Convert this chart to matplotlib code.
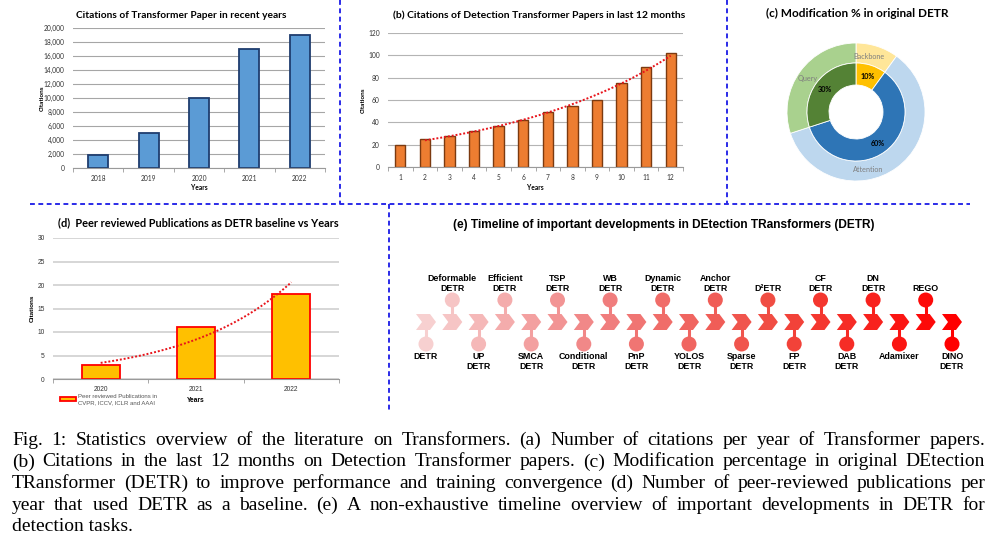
import numpy as np
import matplotlib
matplotlib.use('Agg')
import matplotlib.pyplot as plt
from matplotlib.patches import Polygon, Circle, Patch
from matplotlib.colors import LinearSegmentedColormap
from matplotlib.ticker import FuncFormatter

# ---------------- data ----------------
a_years = ['2018', '2019', '2020', '2021', '2022']
a_citations = [1800, 5000, 10000, 17000, 19000]

b_months = ['1', '2', '3', '4', '5', '6', '7', '8', '9', '10', '11', '12']
b_citations = [20, 25, 28, 32, 37, 42, 49, 55, 60, 75, 90, 102]

c_parts = ['Backbone', 'Attention', 'Query']
c_percent = [10, 60, 30]
c_pct_labels = ['10%', '60%', '30%']

d_years = ['2020', '2021', '2022']
d_pubs = [3, 11, 18]
d_legend = 'Peer reviewed Publications in\nCVPR, ICCV, ICLR and AAAI'

e_names = ['DETR', 'Deformable\nDETR', 'UP\nDETR', 'Efficient\nDETR', 'SMCA\nDETR',
           'TSP\nDETR', 'Conditional\nDETR', 'WB\nDETR', 'PnP\nDETR', 'Dynamic\nDETR',
           'YOLOS\nDETR', 'Anchor\nDETR', 'Sparse\nDETR', 'D²ETR', 'FP\nDETR',
           'CF\nDETR', 'DAB\nDETR', 'DN\nDETR', 'Adamixer', 'REGO', 'DINO\nDETR']
e_side = ['below', 'above'] * 10 + ['below']

caption_lines = [
    "Fig. 1: Statistics overview of the literature on Transformers. (a) Number of citations per year of Transformer papers.",
    "(b) Citations in the last 12 months on Detection Transformer papers. (c) Modification percentage in original DEtection",
    "TRansformer (DETR) to improve performance and training convergence (d) Number of peer-reviewed publications per",
    "year that used DETR as a baseline. (e) A non-exhaustive timeline overview of important developments in DETR for",
    "detection tasks.",
]

# ---------------- figure ----------------
W, H = 1000, 551
fig = plt.figure(figsize=(10, 5.51), dpi=100)
fig.patch.set_facecolor('white')

CAL = 'Lato'
ARIAL = 'Liberation Sans'


def px_axes(x0, y0, x1, y1):
    return fig.add_axes([x0 / W, 1 - y1 / H, (x1 - x0) / W, (y1 - y0) / H])


def excel_style(ax, n, grid_color, grid_lw, fs, family):
    ax.set_facecolor('none')
    for s in ['top', 'right', 'left']:
        ax.spines[s].set_visible(False)
    ax.spines['bottom'].set_color('#9A9A9A')
    ax.spines['bottom'].set_linewidth(0.8)
    ax.yaxis.grid(True, color=grid_color, lw=grid_lw)
    ax.set_axisbelow(True)
    ax.set_xlim(-0.5, n - 0.5)
    ax.set_xticks(np.arange(-0.5, n, 1.0), minor=True)
    ax.tick_params(axis='x', which='minor', length=3, color='#9A9A9A', width=0.6)
    ax.tick_params(axis='x', which='major', length=0, labelsize=fs, pad=5)
    ax.tick_params(axis='y', length=0, labelsize=fs, pad=6)
    for lab in ax.get_xticklabels() + ax.get_yticklabels():
        lab.set_family(family)
        lab.set_color('#333333')


# overlay axes in pixel units
ov = fig.add_axes([0, 0, 1, 1])
ov.set_xlim(0, W)
ov.set_ylim(H, 0)
ov.axis('off')
ov.set_zorder(-1)

sep_kw = dict(color='#2B2BE8', lw=1.4, linestyle=(0, (2.5, 1.8)))
ov.plot([340, 340], [0, 204], **sep_kw)
ov.plot([727, 727], [0, 204], **sep_kw)
ov.plot([30, 970], [204, 204], **sep_kw)
ov.plot([389, 389], [204, 410], **sep_kw)

# ---------------- (a) ----------------
axa = px_axes(73, 28, 325, 168)
xa = np.arange(len(a_years))
axa.bar(xa, a_citations, width=0.4, color='#5B9BD5', edgecolor='#1F3D6E', lw=1.3)
axa.set_ylim(0, 20000)
axa.set_yticks(np.arange(0, 20001, 2000))
axa.yaxis.set_major_formatter(FuncFormatter(lambda v, p: f'{int(v):,}'))
axa.set_xticks(xa)
axa.set_xticklabels(a_years)
excel_style(axa, len(a_years), '#A6A6A6', 0.8, 4.8, CAL)
fig.text(181 / W, 1 - 15 / H, 'Citations of Transformer Paper in recent years',
         ha='center', va='center', fontsize=7.3, fontweight='bold', family=CAL)
fig.text(42 / W, 1 - 98 / H, 'Citations', rotation=90, ha='center', va='center',
         fontsize=4.6, fontweight='bold', family=CAL)
fig.text(199 / W, 1 - 187 / H, 'Years', ha='center', va='center',
         fontsize=4.8, fontweight='bold', family=CAL)

# ---------------- (b) ----------------
axb = px_axes(388, 33, 683, 167)
xb = np.arange(len(b_months))
axb.bar(xb, b_citations, width=0.42, color='#ED7D31', edgecolor='#7B3A10', lw=1.0)
coef_b = np.polyfit(xb, np.log(b_citations), 1)
tb = np.linspace(xb[1], xb[-1], 100)
axb.plot(tb, np.exp(np.polyval(coef_b, tb)), color='#E8141B', lw=1.4, linestyle=(0, (1, 1)))
axb.set_ylim(0, 120)
axb.set_yticks(np.arange(0, 121, 20))
axb.set_xticks(xb)
axb.set_xticklabels(b_months)
excel_style(axb, len(b_months), '#B4B4B4', 0.8, 4.8, CAL)
fig.text(539 / W, 1 - 15 / H, '(b) Citations of Detection Transformer Papers in last 12 months',
         ha='center', va='center', fontsize=7.5, fontweight='bold', family=CAL)
fig.text(363 / W, 1 - 100 / H, 'Citations', rotation=90, ha='center', va='center',
         fontsize=4.6, fontweight='bold', family=CAL)
fig.text(535 / W, 1 - 187 / H, 'Years', ha='center', va='center',
         fontsize=4.8, fontweight='bold', family=CAL)

# ---------------- (c) ----------------
R = 69.0
axc = px_axes(776, 32, 936, 192)
axc.axis('off')
outer_cols = ['#FFE699', '#BDD7EE', '#A9D18E']
inner_cols = ['#FFC000', '#2E75B6', '#548235']
axc.pie(c_percent, radius=1.0, colors=outer_cols, startangle=90, counterclock=False,
        wedgeprops=dict(width=20 / R, edgecolor='white', lw=0.6))
axc.pie(c_percent, radius=49 / R, colors=inner_cols, startangle=90, counterclock=False,
        wedgeprops=dict(width=22 / R, edgecolor='white', lw=0.6))
axc.set_xlim(-80 / R, 80 / R)
axc.set_ylim(-80 / R, 80 / R)
outer_lab_pos = [(0.19, 0.80), (0.17, -0.84), (-0.70, 0.49)]
inner_lab_pos = [(0.17, 0.52), (0.32, -0.45), (-0.45, 0.33)]
for name, p in zip(c_parts, outer_lab_pos):
    axc.text(p[0], p[1], name, ha='center', va='center', fontsize=5.2, color='#7F7F7F', family=CAL)
for name, p in zip(c_pct_labels, inner_lab_pos):
    axc.text(p[0], p[1], name, ha='center', va='center', fontsize=5.2, color='black',
             fontweight='bold', family=CAL)
fig.text(857 / W, 1 - 13 / H, '(c) Modification % in original DETR',
         ha='center', va='center', fontsize=8.5, fontweight='bold', family=CAL)

# ---------------- (d) ----------------
axd = px_axes(53, 238, 339, 379)
xd = np.arange(len(d_years))
axd.bar(xd, d_pubs, width=0.4, color='#FFC000', edgecolor='#FF0000', lw=1.3)
coef_d = np.polyfit(xd, np.log(d_pubs), 1)
td = np.linspace(xd[0], xd[-1], 100)
axd.plot(td, np.exp(np.polyval(coef_d, td)), color='#E8141B', lw=1.4, linestyle=(0, (1, 1)))
axd.set_ylim(0, 30)
axd.set_yticks(np.arange(0, 31, 5))
axd.set_xticks(xd)
axd.set_xticklabels(d_years)
excel_style(axd, len(d_years), '#D0D0D0', 1.2, 4.8, ARIAL)
fig.text(198 / W, 1 - 223 / H, '(d)  Peer reviewed Publications as DETR baseline vs Years',
         ha='center', va='center', fontsize=7.9, fontweight='bold', family=CAL)
fig.text(32 / W, 1 - 308 / H, 'Citations', rotation=90, ha='center', va='center',
         fontsize=4.6, fontweight='bold', family=ARIAL)
fig.text(196 / W, 1 - 400 / H, 'Years', ha='center', va='center',
         fontsize=4.8, fontweight='bold', family=ARIAL)
leg_handle = Patch(facecolor='#FFC000', edgecolor='#FF0000', lw=1.3)
fig.legend([leg_handle], [d_legend], loc='upper left', bbox_to_anchor=(57 / W, 1 - 391 / H),
           frameon=False, handlelength=2.6, handleheight=0.6,
           handletextpad=0.5, borderpad=0, labelcolor='#555555',
           prop=dict(family=ARIAL, size=4.3))

# ---------------- (e) timeline ----------------
fig.text(664 / W, 1 - 225 / H,
         '(e) Timeline of important developments in DEtection TRansformers (DETR)',
         ha='center', va='center', fontsize=8.6, fontweight='bold', family=ARIAL)
cmap = LinearSegmentedColormap.from_list('tl', ['#F7D0D0', '#F08080', '#F04A40', '#FF0000'])
n_e = len(e_names)
ex = 426 + 26.3 * np.arange(n_e)
ey = 322
cw, ch, notch = 20, 16, 6
for i, (name, side) in enumerate(zip(e_names, e_side)):
    col = cmap(i / (n_e - 1))
    x = ex[i]
    pts = [(x - cw / 2, ey - ch / 2), (x + cw / 2 - notch, ey - ch / 2), (x + cw / 2, ey),
           (x + cw / 2 - notch, ey + ch / 2), (x - cw / 2, ey + ch / 2), (x - cw / 2 + notch, ey)]
    cy = 300 if side == 'above' else 344
    ov.plot([x, x], [cy, ey], color=col, lw=2.2, solid_capstyle='butt', zorder=2)
    ov.add_patch(Polygon(pts, closed=True, facecolor=col, edgecolor='none', zorder=3))
    ov.add_patch(Circle((x, cy), 7.5, facecolor=col, edgecolor='none', zorder=3))
    if side == 'above':
        ov.text(x, 293, name, ha='center', va='bottom', fontsize=6.4, fontweight='bold',
                family=ARIAL, linespacing=1.15)
    else:
        ov.text(x, 352, name, ha='center', va='top', fontsize=6.4, fontweight='bold',
                family=ARIAL, linespacing=1.15)

# ---------------- caption (justified) ----------------
cap_fs = 14.0
cap_base = [445, 466.5, 488, 509.5, 531]
left_px, right_px = 12, 985
fig.canvas.draw()
rend = fig.canvas.get_renderer()
for i, line in enumerate(caption_lines):
    yb = 1 - cap_base[i] / H
    if i == len(caption_lines) - 1:
        fig.text(left_px / W, yb, line, fontsize=cap_fs, family='Liberation Serif', va='baseline')
        continue
    fs = cap_fs
    while True:
        words = line.split(' ')
        texts = [fig.text(0, yb, w, fontsize=fs, family='Liberation Serif', va='baseline')
                 for w in words]
        widths = [t.get_window_extent(rend).width for t in texts]
        gap = (right_px - left_px - sum(widths)) / (len(words) - 1)
        if gap >= 0.2 * fs or fs < 10:
            break
        for t in texts:
            t.remove()
        fs -= 0.2
    xcur = left_px
    for t, wd in zip(texts, widths):
        t.set_x(xcur / W)
        xcur += wd + gap

fig.savefig('out.png', dpi=100, facecolor='white')
